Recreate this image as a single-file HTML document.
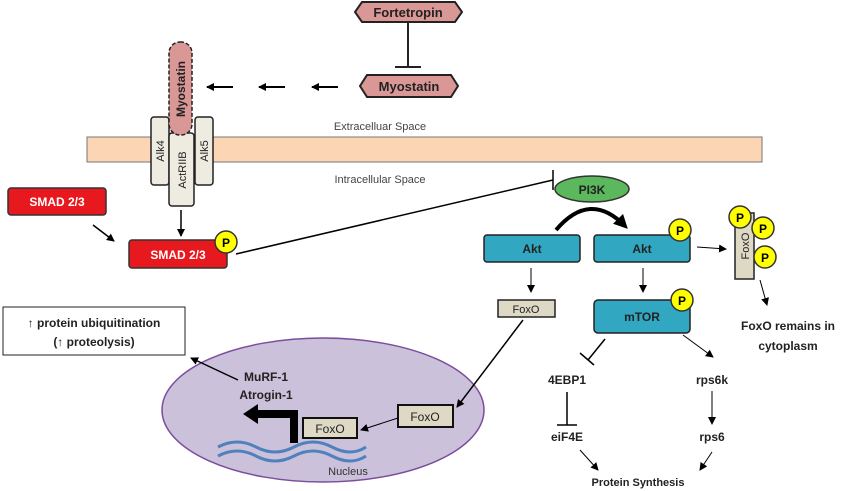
<!DOCTYPE html>
<html><head><style>body{margin:0;background:#fff}svg{display:block;font-family:"Liberation Sans",sans-serif}</style></head><body>
<svg width="850" height="491" viewBox="0 0 850 491">
<defs><marker id="a" markerWidth="8" markerHeight="8" refX="7" refY="4" orient="auto" markerUnits="userSpaceOnUse"><path d="M0,0L8,4L0,8z" fill="#000"/></marker>
<marker id="b" markerWidth="14" markerHeight="14" refX="10" refY="7" orient="auto" markerUnits="userSpaceOnUse"><path d="M0,0L14,7L0,14z" fill="#000"/></marker></defs>
<!-- membrane -->
<rect x="87" y="137" width="675" height="25" fill="#fcd5b5" stroke="#777" stroke-width="1"/>
<text x="380" y="130" font-size="11" fill="#444" text-anchor="middle">Extracelluar Space</text>
<text x="380" y="183" font-size="11" fill="#444" text-anchor="middle">Intracellular Space</text>
<!-- fortetropin/myostatin -->
<path d="M362,2H455L462,12L455,22H362L355,12Z" fill="#d99795" stroke="#222" stroke-width="2"/>
<text x="408" y="17" font-size="13" font-weight="bold" text-anchor="middle" fill="#222">Fortetropin</text>
<line x1="408" y1="22" x2="408" y2="67" stroke="#222" stroke-width="2"/><line x1="395" y1="67" x2="421" y2="67" stroke="#222" stroke-width="2"/>
<path d="M367,75H451L458,86L451,97H367L360,86Z" fill="#d99795" stroke="#222" stroke-width="2"/>
<text x="409" y="91" font-size="13" font-weight="bold" text-anchor="middle" fill="#222">Myostatin</text>
<g stroke="#000" stroke-width="2"><line x1="338" y1="87" x2="312" y2="87" marker-end="url(#a)"/><line x1="285" y1="87" x2="259" y2="87" marker-end="url(#a)"/><line x1="233" y1="87" x2="207" y2="87" marker-end="url(#a)"/></g>
<!-- receptors -->
<rect x="151" y="117" width="18" height="68" rx="3" fill="#eeece1" stroke="#222" stroke-width="1.5"/>
<rect x="195" y="117" width="18" height="68" rx="3" fill="#eeece1" stroke="#222" stroke-width="1.5"/>
<rect x="169" y="133" width="25" height="73" rx="3" fill="#eeece1" stroke="#222" stroke-width="1.5"/>
<rect x="169" y="42" width="23" height="93" rx="11" fill="#d99795" stroke="#222" stroke-width="1.5" stroke-dasharray="4,2"/>
<text transform="translate(185,89) rotate(-90)" font-size="12" font-weight="bold" text-anchor="middle" fill="#222">Myostatin</text>
<text transform="translate(164,151) rotate(-90)" font-size="11" text-anchor="middle" fill="#222">Alk4</text>
<text transform="translate(208,151) rotate(-90)" font-size="11" text-anchor="middle" fill="#222">Alk5</text>
<text transform="translate(186,170) rotate(-90)" font-size="11" text-anchor="middle" fill="#222">ActRIIB</text>
<line x1="181" y1="210" x2="181" y2="236" stroke="#000" stroke-width="1.5" marker-end="url(#a)"/>
<!-- SMADs -->
<rect x="8" y="188" width="98" height="27" rx="3" fill="#e8191e" stroke="#333" stroke-width="1.5"/>
<text x="57" y="206" font-size="12" font-weight="bold" text-anchor="middle" fill="#fff">SMAD 2/3</text>
<line x1="93" y1="225" x2="114" y2="241" stroke="#000" stroke-width="1.5" marker-end="url(#a)"/>
<rect x="129" y="240" width="98" height="28" rx="3" fill="#e8191e" stroke="#333" stroke-width="1.5"/>
<text x="178" y="259" font-size="12" font-weight="bold" text-anchor="middle" fill="#fff">SMAD 2/3</text>
<circle cx="226" cy="242" r="11" fill="#ffff00" stroke="#333" stroke-width="1.5"/><text x="226" y="247" font-size="12" font-weight="bold" text-anchor="middle">P</text>
<line x1="236" y1="254" x2="553" y2="180" stroke="#000" stroke-width="1.5"/><line x1="553" y1="170" x2="553" y2="190" stroke="#000" stroke-width="1.5"/>
<!-- PI3K -->
<ellipse cx="592" cy="189" rx="37" ry="13" fill="#5cb85c" stroke="#333" stroke-width="1.5"/>
<text x="592" y="194" font-size="12" font-weight="bold" text-anchor="middle" fill="#222">PI3K</text>
<path d="M556,230Q590,190 625,226" fill="none" stroke="#000" stroke-width="4" marker-end="url(#b)"/>
<!-- Akt -->
<rect x="484" y="235" width="96" height="27" rx="3" fill="#31a7c2" stroke="#222" stroke-width="1.5"/>
<text x="532" y="253" font-size="12" font-weight="bold" text-anchor="middle" fill="#222">Akt</text>
<rect x="594" y="235" width="96" height="27" rx="3" fill="#31a7c2" stroke="#222" stroke-width="1.5"/>
<text x="642" y="253" font-size="12" font-weight="bold" text-anchor="middle" fill="#222">Akt</text>
<circle cx="680" cy="230" r="11" fill="#ffff00" stroke="#333" stroke-width="1.5"/><text x="680" y="235" font-size="12" font-weight="bold" text-anchor="middle">P</text>
<line x1="697" y1="247" x2="726" y2="249" stroke="#000" stroke-width="1" marker-end="url(#a)"/>
<rect x="735" y="213" width="19" height="66" fill="#ddd9c4" stroke="#222" stroke-width="1.5"/>
<text transform="translate(749,246) rotate(-90)" font-size="11" text-anchor="middle" fill="#222">FoxO</text>
<g fill="#ffff00" stroke="#333" stroke-width="1.5"><circle cx="740" cy="217" r="11"/><circle cx="763" cy="228" r="11"/><circle cx="765" cy="257" r="11"/></g>
<g font-size="12" font-weight="bold" text-anchor="middle"><text x="740" y="222">P</text><text x="763" y="233">P</text><text x="765" y="262">P</text></g>
<line x1="760" y1="280" x2="767" y2="305" stroke="#000" stroke-width="1" marker-end="url(#a)"/>
<text x="788" y="330" font-size="12" font-weight="bold" text-anchor="middle" fill="#222">FoxO remains in</text>
<text x="788" y="350" font-size="12" font-weight="bold" text-anchor="middle" fill="#222">cytoplasm</text>
<!-- FoxO/mTOR -->
<line x1="531" y1="268" x2="531" y2="292" stroke="#000" stroke-width="1" marker-end="url(#a)"/>
<rect x="498" y="300" width="57" height="17" fill="#ddd9c4" stroke="#222" stroke-width="1.5"/>
<text x="526" y="313" font-size="11" text-anchor="middle" fill="#222">FoxO</text>
<line x1="643" y1="268" x2="643" y2="292" stroke="#000" stroke-width="1" marker-end="url(#a)"/>
<rect x="594" y="300" width="96" height="33" rx="4" fill="#31a7c2" stroke="#222" stroke-width="1.5"/>
<text x="642" y="321" font-size="12" font-weight="bold" text-anchor="middle" fill="#222">mTOR</text>
<circle cx="682" cy="300" r="11" fill="#ffff00" stroke="#333" stroke-width="1.5"/><text x="682" y="305" font-size="12" font-weight="bold" text-anchor="middle">P</text>
<line x1="605" y1="339" x2="588" y2="360" stroke="#000" stroke-width="1.5"/><line x1="580" y1="353" x2="594" y2="365" stroke="#000" stroke-width="1.5"/>
<text x="567" y="384" font-size="12" font-weight="bold" text-anchor="middle" fill="#222">4EBP1</text>
<line x1="567" y1="392" x2="567" y2="425" stroke="#000" stroke-width="1.5"/><line x1="557" y1="425" x2="577" y2="425" stroke="#000" stroke-width="1.5"/>
<text x="567" y="441" font-size="12" font-weight="bold" text-anchor="middle" fill="#222">eiF4E</text>
<line x1="580" y1="450" x2="598" y2="470" stroke="#000" stroke-width="1" marker-end="url(#a)"/>
<line x1="683" y1="335" x2="713" y2="357" stroke="#000" stroke-width="1" marker-end="url(#a)"/>
<text x="712" y="384" font-size="12" font-weight="bold" text-anchor="middle" fill="#222">rps6k</text>
<line x1="712" y1="391" x2="712" y2="424" stroke="#000" stroke-width="1" marker-end="url(#a)"/>
<text x="712" y="441" font-size="12" font-weight="bold" text-anchor="middle" fill="#222">rps6</text>
<line x1="712" y1="452" x2="700" y2="470" stroke="#000" stroke-width="1" marker-end="url(#a)"/>
<text x="638" y="486" font-size="11" font-weight="bold" text-anchor="middle" fill="#222">Protein Synthesis</text>
<!-- nucleus -->
<ellipse cx="323" cy="410" rx="161" ry="72" fill="#ccc1da" stroke="#7c4d9c" stroke-width="1.5"/>
<line x1="523" y1="320" x2="457" y2="407" stroke="#000" stroke-width="1.5" marker-end="url(#a)"/>
<rect x="398" y="405" width="55" height="22" fill="#ddd9c4" stroke="#111" stroke-width="2"/>
<text x="425" y="421" font-size="12" text-anchor="middle" fill="#222">FoxO</text>
<line x1="398" y1="418" x2="361" y2="430" stroke="#000" stroke-width="1" marker-end="url(#a)"/>
<rect x="303" y="418" width="54" height="20" fill="#ddd9c4" stroke="#111" stroke-width="2"/>
<text x="330" y="433" font-size="12" text-anchor="middle" fill="#222">FoxO</text>
<g fill="none" stroke="#4f81bd" stroke-width="3"><path d="M218,447Q237,437 256,447T294,447T332,447T366,447"/><path d="M218,456Q237,446 256,456T294,456T332,456T366,456"/></g>
<path d="M290,443V418H258V424L243,414L258,404V410H298V443Z" fill="#000"/>
<text x="266" y="381" font-size="12" font-weight="bold" text-anchor="middle" fill="#222">MuRF-1</text>
<text x="266" y="399" font-size="12" font-weight="bold" text-anchor="middle" fill="#222">Atrogin-1</text>
<line x1="238" y1="380" x2="191" y2="358" stroke="#000" stroke-width="1.5" marker-end="url(#a)"/>
<text x="348" y="475" font-size="11" text-anchor="middle" fill="#333">Nucleus</text>
<rect x="3" y="307" width="182" height="48" fill="#fff" stroke="#222" stroke-width="1"/>
<text x="94" y="327" font-size="12" font-weight="bold" text-anchor="middle" fill="#222">↑ protein ubiquitination</text>
<text x="94" y="346" font-size="12" font-weight="bold" text-anchor="middle" fill="#222">(↑ proteolysis)</text>
</svg>
</body></html>
